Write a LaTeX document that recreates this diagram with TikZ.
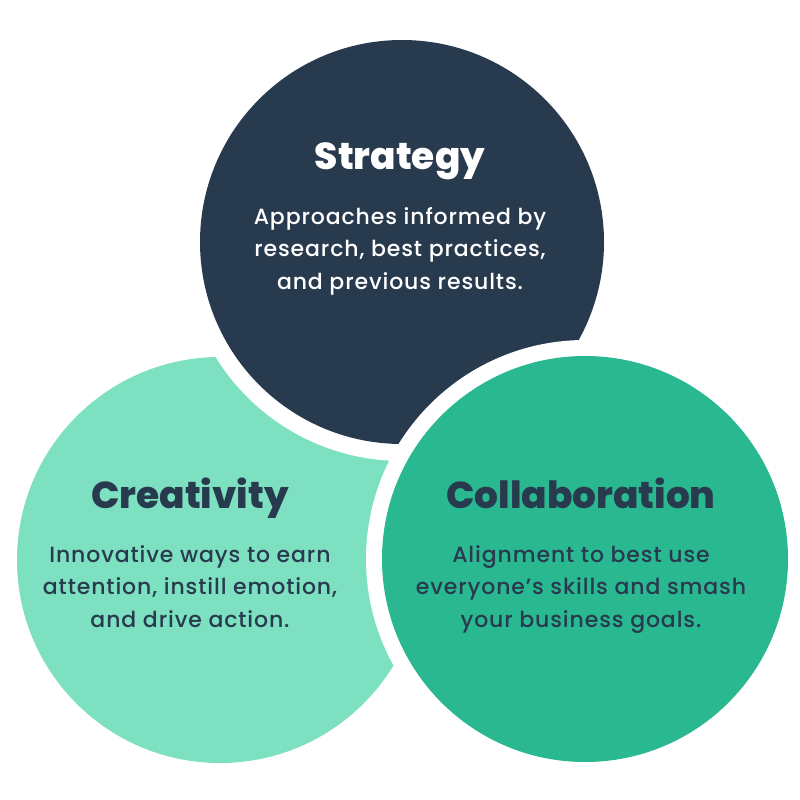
\documentclass[tikz,border=0pt]{standalone}
\usepackage{fontspec}
\setmainfont{Poppins}
\newfontfamily\corps{Poppins Medium}[LetterSpace=4]
\newfontfamily\grostitre{Poppins ExtraBold}
\usetikzlibrary{positioning}
\definecolor{primaire}{HTML}{283A4E}
\definecolor{menthe}{HTML}{7DE1C1}
\definecolor{vert}{HTML}{2AB891}
\tikzset{
  halo/.style={fill=white},
  titre/.style={font=\grostitre\fontsize{37.5}{40}\selectfont, anchor=base,
    inner sep=0pt},
  texte/.style={font=\corps\fontsize{22}{32.5}\selectfont, align=center,
    anchor=base, inner sep=0pt}
}
\begin{document}
\begin{tikzpicture}[x=1pt, y=-1pt]
    \useasboundingbox (0,0) rectangle (800,800);
    \coordinate (ccrea) at (220,560);
    \coordinate (cstrat) at (402,242);
    \coordinate (ccolla) at (585,559);

    % Creativite, dessous
    \fill[menthe] (ccrea) circle[radius=203pt];

    % Strategie, au milieu
    \fill[halo] (cstrat) circle[radius=219pt];
    \fill[primaire] (cstrat) circle[radius=202pt];

    % Collaboration, dessus
    \fill[halo] (ccolla) circle[radius=219pt];
    \fill[vert] (ccolla) circle[radius=203pt];

    % Textes (ancre sur la ligne de base de la derniere ligne)
    \node[titre, text=white] (tstrat) at (400,169) {Strategy};
    \node[texte, text=white] (dstrat) at (400,289)
      {Approaches informed by\\research, best practices,\\and previous results.};
    \node[titre, text=primaire] (tcrea) at (190,508) {Creativity};
    \node[texte, text=primaire] (dcrea) at (190,627)
      {Innovative ways to earn\\attention, instill emotion,\\and drive action.};
    \node[titre, text=primaire] (tcolla) at (581,508) {Collaboration};
    \node[texte, text=primaire] (dcolla) at (581,627)
      {Alignment to best use\\everyone’s skills and smash\\your business goals.};
\end{tikzpicture}
\end{document}
